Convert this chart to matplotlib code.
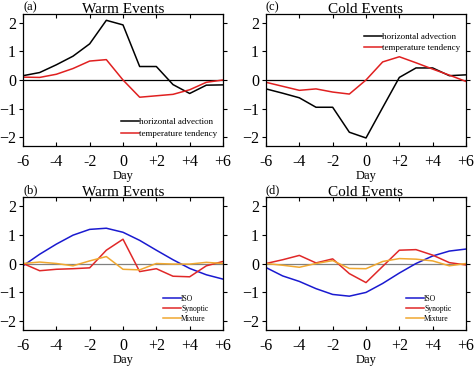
import matplotlib
matplotlib.use("Agg")
import matplotlib.pyplot as plt
import numpy as np

plt.rcParams['font.family'] = ['Liberation Serif', 'DejaVu Serif']

days = np.arange(-6, 7)
xtick_vals = [-6, -4, -2, 0, 2, 4, 6]
xtick_labels = ['-6', '-4', '-2', '0', '+2', '+4', '+6']
ytick_vals = [-2, -1, 0, 1, 2]

# (a) Warm events
warm_adv = [0.15, 0.26, 0.53, 0.83, 1.26, 2.08, 1.92, 0.47, 0.47, -0.16, -0.47, -0.18, -0.17]
warm_tend = [0.10, 0.09, 0.20, 0.40, 0.66, 0.71, 0.0, -0.60, -0.55, -0.50, -0.34, -0.08, 0.0]
# (c) Cold events
cold_adv = [-0.31, -0.46, -0.62, -0.95, -0.95, -1.82, -2.02, -0.96, 0.09, 0.42, 0.42, 0.15, 0.18]
cold_tend = [-0.08, -0.22, -0.36, -0.31, -0.42, -0.49, 0.0, 0.63, 0.81, 0.60, 0.38, 0.17, -0.05]
# (b) Warm events decomposition
warm_iso = [-0.08, 0.32, 0.67, 0.98, 1.18, 1.22, 1.08, 0.80, 0.46, 0.13, -0.17, -0.39, -0.54]
warm_syn = [0.0, -0.25, -0.20, -0.18, -0.15, 0.46, 0.84, -0.28, -0.18, -0.44, -0.46, -0.08, 0.07]
warm_mix = [0.0, 0.05, 0.0, -0.08, 0.09, 0.24, -0.20, -0.22, 0.0, -0.02, -0.02, 0.04, 0.0]
# (d) Cold events decomposition
cold_iso = [-0.14, -0.43, -0.62, -0.87, -1.07, -1.13, -1.00, -0.69, -0.33, 0.0, 0.26, 0.43, 0.50]
cold_syn = [0.0, 0.13, 0.28, 0.02, 0.16, -0.35, -0.66, -0.10, 0.46, 0.48, 0.29, 0.03, -0.05]
cold_mix = [0.0, -0.06, -0.13, 0.0, 0.10, -0.17, -0.18, 0.07, 0.17, 0.15, 0.09, -0.08, 0.0]

W, H = 474, 366
fig = plt.figure(figsize=(W / 100, H / 100), dpi=100)

def make_ax(l, r, t, b):
    return fig.add_axes([l / W, 1 - b / H, (r - l) / W, (b - t) / H])

axa = make_ax(23, 223, 14, 146)
axc = make_ax(266, 466, 14, 146)
axb = make_ax(23, 223, 197, 330)
axd = make_ax(266, 466, 197, 330)

def style(ax, letter, title, zero_color):
    ax.set_xlim(-6, 6)
    ax.set_ylim(-2.3, 2.3)
    ax.axhline(0, color=zero_color, lw=0.9, zorder=1)
    ax.set_xticks(xtick_vals)
    ax.set_xticklabels(xtick_labels)
    ax.set_yticks(ytick_vals)
    ax.tick_params(axis='y', direction='out', length=3, width=0.8,
                   labelsize=11.5, left=True, right=True, pad=2)
    ax.tick_params(axis='x', direction='in', length=3, width=0.8,
                   labelsize=11.5, top=True, bottom=True, pad=6)
    for s in ax.spines.values():
        s.set_linewidth(0.9)
    ax.set_xlabel('Day', fontsize=9, labelpad=0)
    ax.set_title(title, fontsize=11, pad=1)
    ax.text(0.0, 1.005, letter, transform=ax.transAxes, fontsize=9,
            ha='left', va='bottom')

lw = 1.1
axa.plot(days, warm_adv, color='black', lw=lw, label='horizontal advection')
axa.plot(days, warm_tend, color='#e02020', lw=lw, label='temperature tendency')
style(axa, '(a)', 'Warm Events', 'black')
axa.legend(loc='lower right', bbox_to_anchor=(1.0, 0.02), fontsize=6.5, frameon=False,
           handlelength=2.0, handletextpad=0.0, labelspacing=0.35, borderaxespad=0.2)

axc.plot(days, cold_adv, color='black', lw=lw, label='horizontal advection')
axc.plot(days, cold_tend, color='#e02020', lw=lw, label='temperature tendency')
style(axc, '(c)', 'Cold Events', 'black')
axc.legend(loc='upper right', bbox_to_anchor=(1.0, 0.9), fontsize=6.5, frameon=False,
           handlelength=2.0, handletextpad=0.0, labelspacing=0.35, borderaxespad=0.2)

for ax, iso, syn, mix, letter, title in [
        (axb, warm_iso, warm_syn, warm_mix, '(b)', 'Warm Events'),
        (axd, cold_iso, cold_syn, cold_mix, '(d)', 'Cold Events')]:
    ax.plot(days, iso, color='#1a1ad0', lw=lw, label='ISO')
    ax.plot(days, syn, color='#e02828', lw=lw, label='Synoptic')
    ax.plot(days, mix, color='#f0a830', lw=lw, label='Mixture')
    style(ax, letter, title, '#808080')
    ax.legend(loc='lower right', bbox_to_anchor=(0.95, 0.02), fontsize=5.5, frameon=False,
              handlelength=2.4, handletextpad=0.0, labelspacing=0.25, borderaxespad=0.2)

fig.savefig('out.png', dpi=100)
